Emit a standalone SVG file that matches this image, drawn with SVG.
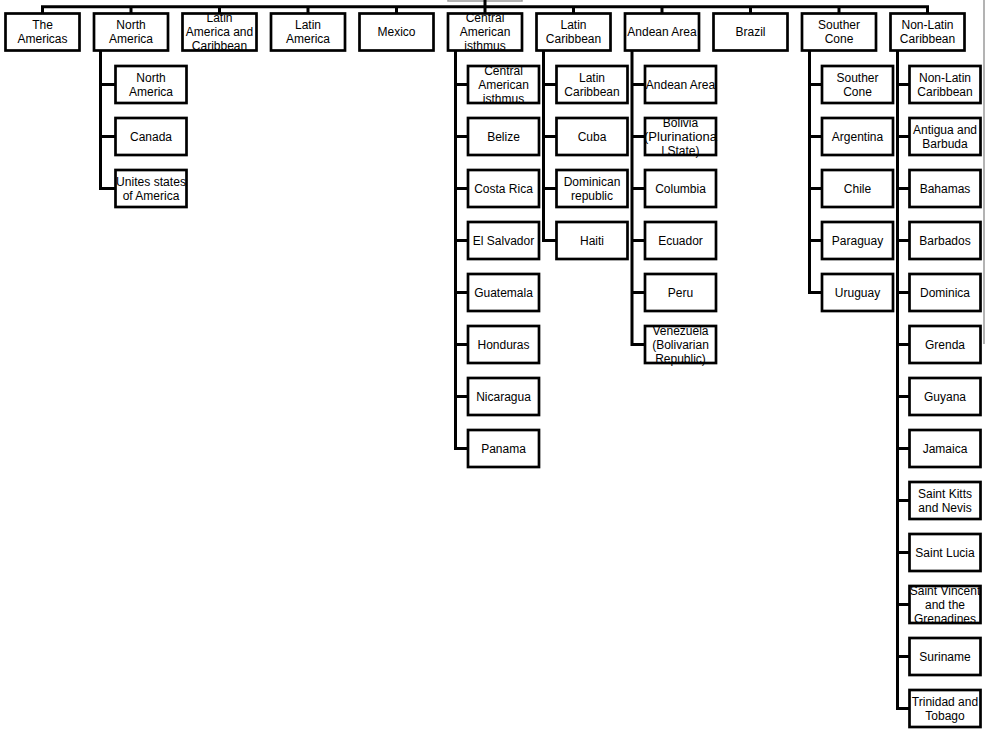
<svg xmlns="http://www.w3.org/2000/svg" width="985" height="746" viewBox="0 0 985 746">
<style>
.box{fill:#fff;stroke:#000;stroke-width:2.7}
.lbl{font-family:"Liberation Sans",Arial,sans-serif;font-size:12px;text-anchor:middle;fill:#000}
.conn{stroke:#000;stroke-width:3;fill:none}
.ghost{fill:none;stroke:#9a9a9a;stroke-width:1.5}
</style>
<rect width="985" height="746" fill="#fff"/>
<line class="ghost" x1="984" y1="0" x2="984" y2="344"/>
<g id="root"><rect class="ghost" x="448" y="-36" width="74" height="37"/></g>
<g id="connectors">
<path class="conn" d="M485 0V6.7M42.5 6.7H927.5M42.5 5.2V13.5M131 5.2V13.5M219.5 5.2V13.5M308 5.2V13.5M396.5 5.2V13.5M485 5.2V13.5M573.5 5.2V13.5M662 5.2V13.5M750.5 5.2V13.5M839 5.2V13.5M927.5 5.2V13.5"/>
<path class="conn" d="M100.5 50.5V188.5H115.5M100.5 84.5H115.5M100.5 136.5H115.5"/>
<path class="conn" d="M455.5 50.5V448.5H468M455.5 84.5H468M455.5 136.5H468M455.5 188.5H468M455.5 240.5H468M455.5 292.5H468M455.5 344.5H468M455.5 396.5H468"/>
<path class="conn" d="M543.5 50.5V240.5H556.5M543.5 84.5H556.5M543.5 136.5H556.5M543.5 188.5H556.5"/>
<path class="conn" d="M632 50.5V344.5H645M632 84.5H645M632 136.5H645M632 188.5H645M632 240.5H645M632 292.5H645"/>
<path class="conn" d="M809.5 50.5V292.5H822M809.5 84.5H822M809.5 136.5H822M809.5 188.5H822M809.5 240.5H822"/>
<path class="conn" d="M897.5 50.5V708.5H909.5M897.5 84.5H909.5M897.5 136.5H909.5M897.5 188.5H909.5M897.5 240.5H909.5M897.5 292.5H909.5M897.5 344.5H909.5M897.5 396.5H909.5M897.5 448.5H909.5M897.5 500.5H909.5M897.5 552.5H909.5M897.5 604.5H909.5M897.5 656.5H909.5"/>
</g>
<!-- top row -->
<g id="the-americas"><rect class="box" x="5.5" y="13.5" width="74" height="37"/><text class="lbl"><tspan x="42.5" y="29">The</tspan><tspan x="42.5" y="43">Americas</tspan></text></g>
<g id="north-america"><rect class="box" x="94" y="13.5" width="74" height="37"/><text class="lbl"><tspan x="131" y="29">North</tspan><tspan x="131" y="43">America</tspan></text></g>
<g id="latin-america-caribbean"><rect class="box" x="182.5" y="13.5" width="74" height="37"/><text class="lbl"><tspan x="219.5" y="22">Latin</tspan><tspan x="219.5" y="36">America and</tspan><tspan x="219.5" y="50">Caribbean</tspan></text></g>
<g id="latin-america"><rect class="box" x="271" y="13.5" width="74" height="37"/><text class="lbl"><tspan x="308" y="29">Latin</tspan><tspan x="308" y="43">America</tspan></text></g>
<g id="mexico"><rect class="box" x="359.5" y="13.5" width="74" height="37"/><text class="lbl" x="396.5" y="36">Mexico</text></g>
<g id="central-american-isthmus"><rect class="box" x="448" y="13.5" width="74" height="37"/><text class="lbl"><tspan x="485" y="22">Central</tspan><tspan x="485" y="36">American</tspan><tspan x="485" y="50">isthmus</tspan></text></g>
<g id="latin-caribbean"><rect class="box" x="536.5" y="13.5" width="74" height="37"/><text class="lbl"><tspan x="573.5" y="29">Latin</tspan><tspan x="573.5" y="43">Caribbean</tspan></text></g>
<g id="andean-area"><rect class="box" x="625" y="13.5" width="74" height="37"/><text class="lbl" x="662" y="36">Andean Area</text></g>
<g id="brazil"><rect class="box" x="713.5" y="13.5" width="74" height="37"/><text class="lbl" x="750.5" y="36">Brazil</text></g>
<g id="southern-cone"><rect class="box" x="802" y="13.5" width="74" height="37"/><text class="lbl"><tspan x="839" y="29">Souther</tspan><tspan x="839" y="43">Cone</tspan></text></g>
<g id="non-latin-caribbean"><rect class="box" x="890.5" y="13.5" width="74" height="37"/><text class="lbl"><tspan x="927.5" y="29">Non-Latin</tspan><tspan x="927.5" y="43">Caribbean</tspan></text></g>
<!-- North America children -->
<g id="na-north-america"><rect class="box" x="115.5" y="66" width="71" height="37"/><text class="lbl"><tspan x="151" y="81.5">North</tspan><tspan x="151" y="95.5">America</tspan></text></g>
<g id="na-canada"><rect class="box" x="115.5" y="118" width="71" height="37"/><text class="lbl" x="151" y="140.5">Canada</text></g>
<g id="na-usa"><rect class="box" x="115.5" y="170" width="71" height="37"/><text class="lbl"><tspan x="151" y="185.5" textLength="70" lengthAdjust="spacingAndGlyphs">Unites states</tspan><tspan x="151" y="199.5">of America</tspan></text></g>
<!-- Central American isthmus children -->
<g id="cai-central-american-isthmus"><rect class="box" x="468" y="66" width="71" height="37"/><text class="lbl"><tspan x="503.5" y="74.5">Central</tspan><tspan x="503.5" y="88.5">American</tspan><tspan x="503.5" y="102.5">isthmus</tspan></text></g>
<g id="cai-belize"><rect class="box" x="468" y="118" width="71" height="37"/><text class="lbl" x="503.5" y="140.5">Belize</text></g>
<g id="cai-costa-rica"><rect class="box" x="468" y="170" width="71" height="37"/><text class="lbl" x="503.5" y="192.5">Costa Rica</text></g>
<g id="cai-el-salvador"><rect class="box" x="468" y="222" width="71" height="37"/><text class="lbl" x="503.5" y="244.5">El Salvador</text></g>
<g id="cai-guatemala"><rect class="box" x="468" y="274" width="71" height="37"/><text class="lbl" x="503.5" y="296.5">Guatemala</text></g>
<g id="cai-honduras"><rect class="box" x="468" y="326" width="71" height="37"/><text class="lbl" x="503.5" y="348.5">Honduras</text></g>
<g id="cai-nicaragua"><rect class="box" x="468" y="378" width="71" height="37"/><text class="lbl" x="503.5" y="400.5">Nicaragua</text></g>
<g id="cai-panama"><rect class="box" x="468" y="430" width="71" height="37"/><text class="lbl" x="503.5" y="452.5">Panama</text></g>
<!-- Latin Caribbean children -->
<g id="lc-latin-caribbean"><rect class="box" x="556.5" y="66" width="71" height="37"/><text class="lbl"><tspan x="592" y="81.5">Latin</tspan><tspan x="592" y="95.5">Caribbean</tspan></text></g>
<g id="lc-cuba"><rect class="box" x="556.5" y="118" width="71" height="37"/><text class="lbl" x="592" y="140.5">Cuba</text></g>
<g id="lc-dominican-republic"><rect class="box" x="556.5" y="170" width="71" height="37"/><text class="lbl"><tspan x="592" y="185.5">Dominican</tspan><tspan x="592" y="199.5">republic</tspan></text></g>
<g id="lc-haiti"><rect class="box" x="556.5" y="222" width="71" height="37"/><text class="lbl" x="592" y="244.5">Haiti</text></g>
<!-- Andean Area children -->
<g id="aa-andean-area"><rect class="box" x="645" y="66" width="71" height="37"/><text class="lbl" x="680.5" y="88.5">Andean Area</text></g>
<g id="aa-bolivia"><rect class="box" x="645" y="118" width="71" height="37"/><text class="lbl"><tspan x="680.5" y="126.5">Bolivia</tspan><tspan x="680.5" y="140.5" textLength="73" lengthAdjust="spacingAndGlyphs">(Plurinationa</tspan><tspan x="680.5" y="154.5">l State)</tspan></text></g>
<g id="aa-columbia"><rect class="box" x="645" y="170" width="71" height="37"/><text class="lbl" x="680.5" y="192.5">Columbia</text></g>
<g id="aa-ecuador"><rect class="box" x="645" y="222" width="71" height="37"/><text class="lbl" x="680.5" y="244.5">Ecuador</text></g>
<g id="aa-peru"><rect class="box" x="645" y="274" width="71" height="37"/><text class="lbl" x="680.5" y="296.5">Peru</text></g>
<g id="aa-venezuela"><rect class="box" x="645" y="326" width="71" height="37"/><text class="lbl"><tspan x="680.5" y="334.5">Venezuela</tspan><tspan x="680.5" y="348.5">(Bolivarian</tspan><tspan x="680.5" y="362.5">Republic)</tspan></text></g>
<!-- Southern Cone children -->
<g id="sc-southern-cone"><rect class="box" x="822" y="66" width="71" height="37"/><text class="lbl"><tspan x="857.5" y="81.5">Souther</tspan><tspan x="857.5" y="95.5">Cone</tspan></text></g>
<g id="sc-argentina"><rect class="box" x="822" y="118" width="71" height="37"/><text class="lbl" x="857.5" y="140.5">Argentina</text></g>
<g id="sc-chile"><rect class="box" x="822" y="170" width="71" height="37"/><text class="lbl" x="857.5" y="192.5">Chile</text></g>
<g id="sc-paraguay"><rect class="box" x="822" y="222" width="71" height="37"/><text class="lbl" x="857.5" y="244.5">Paraguay</text></g>
<g id="sc-uruguay"><rect class="box" x="822" y="274" width="71" height="37"/><text class="lbl" x="857.5" y="296.5">Uruguay</text></g>
<!-- Non-Latin Caribbean children -->
<g id="nlc-non-latin-caribbean"><rect class="box" x="909.5" y="66" width="71" height="37"/><text class="lbl"><tspan x="945" y="81.5">Non-Latin</tspan><tspan x="945" y="95.5">Caribbean</tspan></text></g>
<g id="nlc-antigua"><rect class="box" x="909.5" y="118" width="71" height="37"/><text class="lbl"><tspan x="945" y="133.5">Antigua and</tspan><tspan x="945" y="147.5">Barbuda</tspan></text></g>
<g id="nlc-bahamas"><rect class="box" x="909.5" y="170" width="71" height="37"/><text class="lbl" x="945" y="192.5">Bahamas</text></g>
<g id="nlc-barbados"><rect class="box" x="909.5" y="222" width="71" height="37"/><text class="lbl" x="945" y="244.5">Barbados</text></g>
<g id="nlc-dominica"><rect class="box" x="909.5" y="274" width="71" height="37"/><text class="lbl" x="945" y="296.5">Dominica</text></g>
<g id="nlc-grenda"><rect class="box" x="909.5" y="326" width="71" height="37"/><text class="lbl" x="945" y="348.5">Grenda</text></g>
<g id="nlc-guyana"><rect class="box" x="909.5" y="378" width="71" height="37"/><text class="lbl" x="945" y="400.5">Guyana</text></g>
<g id="nlc-jamaica"><rect class="box" x="909.5" y="430" width="71" height="37"/><text class="lbl" x="945" y="452.5">Jamaica</text></g>
<g id="nlc-saint-kitts"><rect class="box" x="909.5" y="482" width="71" height="37"/><text class="lbl"><tspan x="945" y="497.5">Saint Kitts</tspan><tspan x="945" y="511.5">and Nevis</tspan></text></g>
<g id="nlc-saint-lucia"><rect class="box" x="909.5" y="534" width="71" height="37"/><text class="lbl" x="945" y="556.5">Saint Lucia</text></g>
<g id="nlc-saint-vincent"><rect class="box" x="909.5" y="586" width="71" height="37"/><text class="lbl"><tspan x="945" y="594.5">Saint Vincent</tspan><tspan x="945" y="608.5">and the</tspan><tspan x="945" y="622.5">Grenadines</tspan></text></g>
<g id="nlc-suriname"><rect class="box" x="909.5" y="638" width="71" height="37"/><text class="lbl" x="945" y="660.5">Suriname</text></g>
<g id="nlc-trinidad"><rect class="box" x="909.5" y="690" width="71" height="37"/><text class="lbl"><tspan x="945" y="705.5">Trinidad and</tspan><tspan x="945" y="719.5">Tobago</tspan></text></g>
</svg>
